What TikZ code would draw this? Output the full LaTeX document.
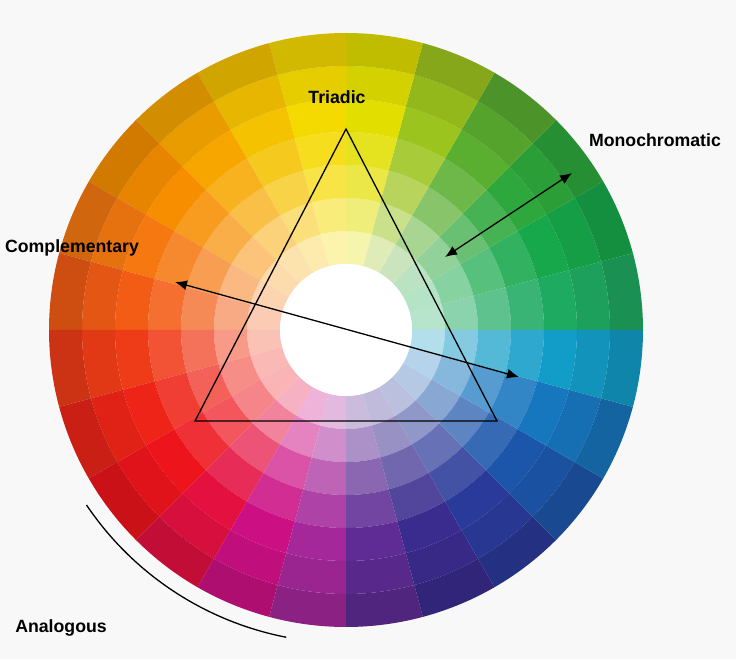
\documentclass[tikz,border=0pt]{standalone}
\usepackage{fontspec}
\setmainfont{Liberation Sans}
\usepackage{tikz}
\usetikzlibrary{arrows.meta,positioning}
\definecolor{bg}{HTML}{F8F8F8}
\definecolor{hue0}{HTML}{1FAA62}
\definecolor{hue1}{HTML}{16A84A}
\definecolor{hue2}{HTML}{2EA83C}
\definecolor{hue3}{HTML}{5AAE30}
\definecolor{hue4}{HTML}{9CC41E}
\definecolor{hue5}{HTML}{E2DE00}
\definecolor{hue6}{HTML}{F5DA00}
\definecolor{hue7}{HTML}{F5C200}
\definecolor{hue8}{HTML}{F7A600}
\definecolor{hue9}{HTML}{F78E00}
\definecolor{hue10}{HTML}{F57810}
\definecolor{hue11}{HTML}{F25C14}
\definecolor{hue12}{HTML}{EF3C18}
\definecolor{hue13}{HTML}{EE2418}
\definecolor{hue14}{HTML}{EE141C}
\definecolor{hue15}{HTML}{E41040}
\definecolor{hue16}{HTML}{CC1084}
\definecolor{hue17}{HTML}{A4289A}
\definecolor{hue18}{HTML}{5E2C94}
\definecolor{hue19}{HTML}{3A2C8E}
\definecolor{hue20}{HTML}{2A3A9A}
\definecolor{hue21}{HTML}{1C56AA}
\definecolor{hue22}{HTML}{1676BE}
\definecolor{hue23}{HTML}{129CC8}
\tikzset{
	every node/.style={font=\fontsize{17.7}{20}\selectfont\bfseries},
	guide line/.style={black, line width=1.3pt}
}

\begin{document}
\begin{tikzpicture}[x=1pt, y=1pt, <->, >={Latex[length=12pt,width=10pt]},
	labelnode/.style={inner sep=0pt, text=black},]
	\fill[bg] (0,0) rectangle (736,659);
	\useasboundingbox (0,0) rectangle (736,659);
	\coordinate (c) at (346,329);

	% Wheel: 24 hues, 7 rings from tint to shade
	\foreach \i in {0,...,23} {
		\foreach \k/\m in {0/{!32},1/{!52},2/{!72},3/{!88},4/{},5/{!94!black},6/{!85!black}} {
			\fill[hue\i\m, shift={(c)}]
				(\i*15:66+33*\k) arc[start angle=\i*15, end angle=\i*15+15, radius=66+33*\k]
				-- (\i*15+15:99+33*\k) arc[start angle=\i*15+15, end angle=\i*15, radius=99+33*\k]
				-- cycle;
		}
	}
	\fill[white] (c) circle[radius=66];

	\coordinate (t1) at (346,530);
	\coordinate (t2) at (195,238);
	\coordinate (t3) at (497,238);
	\coordinate (comp1) at (175,377);
	\coordinate (comp2) at (519,282);
	\coordinate (mono1) at (445,402);
	\coordinate (mono2) at (572,486);
	\coordinate (ana) at ([shift={(214:313)}]c);

	\node[labelnode] (triadic) at (337,562) {Triadic};
	\node[labelnode] (monochromatic) at (655,519) {Monochromatic};
	\node[labelnode] (complementary) at (72,411) {Complementary};
	\node[labelnode] (analogous) at (61,31) {Analogous};

	% Triangle
	\draw[-, guide line, line join=miter] (t1) -- (t2) -- (t3) -- cycle;

	% Arrows
	\draw[guide line] (comp1) -- (comp2);
	\draw[guide line] (mono1) -- (mono2);

	% Arc
	\draw[-, guide line] (ana) arc[start angle=214, end angle=259, radius=313];
\end{tikzpicture}
\end{document}
